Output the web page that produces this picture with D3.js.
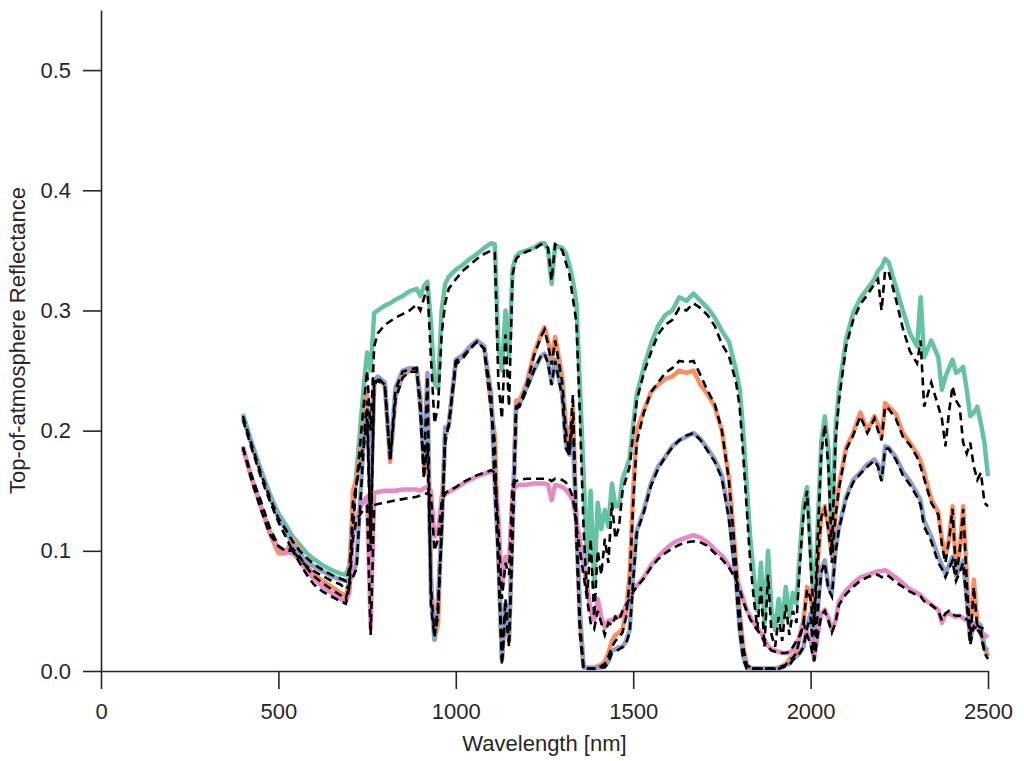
<!DOCTYPE html>
<html lang='en'>
	<head>
		<title>TOA reflectance</title>
		<meta charset=utf-8>
		<script src="https://cdn.jsdelivr.net/npm/d3@7/dist/d3.min.js" charset="utf-8"></script>
		<style>
			body {
				margin: 0;
				background-color: white;
			}
			.axis text {
				font-family: "Liberation Sans", Arial, Helvetica, sans-serif;
				font-size: 22px;
				fill: #262626;
			}
			.axis path, .axis line {
				stroke: #262626;
				stroke-width: 1.6px;
			}
			.label {
				font-family: "Liberation Sans", Arial, Helvetica, sans-serif;
				font-size: 22px;
				fill: #262626;
			}
		</style>
	</head>
	<body>
		<svg id='chart' width="1024" height="761"></svg>
	</body>

	<script>
		// wavelength grid [nm], shared by all series
		var wavelength = [400,425,450,475,500,520,540,560,580,600,
			625,650,675,690,700,710,720,740,750,760,
			770,780,800,815,830,850,870,890,900,910,
			920,930,940,950,960,970,980,1000,1020,1040,
			1060,1080,1100,1110,1120,1130,1140,1150,1160,1170,
			1180,1200,1220,1240,1250,1260,1270,1280,1300,1310,
			1320,1330,1340,1350,1360,1370,1380,1390,1400,1410,
			1420,1430,1440,1450,1460,1470,1480,1490,1500,1510,
			1530,1550,1570,1590,1610,1630,1650,1670,1690,1710,
			1730,1750,1770,1790,1800,1810,1820,1830,1840,1850,
			1860,1870,1880,1890,1900,1910,1920,1930,1940,1950,
			1960,1970,1980,1990,2000,2010,2020,2030,2040,2050,
			2060,2070,2080,2100,2120,2140,2160,2180,2190,2200,
			2210,2220,2240,2260,2280,2300,2310,2320,2340,2360,
			2370,2380,2390,2400,2410,2420,2430,2440,2450,2460,
			2470,2480,2490,2500];

		// measured spectra (solid)
		var greenMeas = [.214,.190,.168,.148,.131,.122,.112,.105,.098,.093,
			.088,.084,.081,.080,.088,.130,.165,.235,.265,.250,
			.298,.300,.304,.306,.309,.312,.316,.318,.312,.320,
			.324,.290,.240,.235,.300,.322,.328,.334,.338,.343,
			.347,.352,.356,.355,.270,.250,.300,.260,.335,.345,
			.348,.350,.352,.356,.356,.350,.322,.354,.352,.348,
			.338,.325,.306,.236,.165,.090,.150,.070,.140,.118,
			.134,.120,.156,.137,.137,.160,.168,.178,.205,.230,
			.253,.272,.287,.296,.300,.311,.308,.314,.308,.302,
			.294,.283,.274,.250,.235,.200,.155,.110,.080,.050,
			.090,.040,.100,.050,.034,.060,.040,.070,.045,.065,
			.056,.100,.139,.153,.100,.053,.120,.190,.212,.185,
			.110,.200,.234,.276,.298,.310,.318,.326,.333,.336,
			.343,.340,.320,.300,.281,.270,.311,.261,.275,.261,
			.234,.245,.252,.259,.248,.250,.253,.234,.212,.215,
			.220,.206,.190,.162];

		var orangeMeas = [.185,.160,.138,.115,.098,.098,.110,.100,.088,.080,
			.075,.070,.065,.062,.075,.150,.160,.200,.230,.140,
			.240,.243,.238,.174,.228,.246,.250,.250,.230,.170,
			.200,.080,.026,.040,.130,.195,.205,.257,.262,.270,
			.275,.270,.220,.195,.100,.010,.050,.025,.120,.225,
			.225,.240,.264,.280,.286,.275,.258,.278,.245,.205,
			.190,.220,.120,.040,.003,.003,.003,.003,.004,.005,
			.008,.015,.025,.030,.032,.035,.050,.080,.150,.200,
			.217,.232,.238,.243,.245,.250,.248,.250,.238,.230,
			.220,.200,.160,.090,.050,.020,.005,.003,.002,.002,
			.002,.002,.002,.002,.002,.003,.004,.006,.010,.012,
			.015,.030,.042,.070,.065,.030,.090,.130,.137,.120,
			.095,.130,.155,.186,.198,.215,.200,.212,.205,.195,
			.223,.220,.214,.198,.190,.181,.175,.165,.143,.132,
			.110,.095,.110,.137,.084,.100,.137,.080,.026,.076,
			.040,.032,.020,.012];

		var blueMeas = [.211,.188,.166,.146,.128,.118,.105,.097,.091,.087,
			.083,.079,.076,.075,.075,.080,.090,.190,.215,.145,
			.242,.245,.240,.178,.236,.250,.252,.252,.220,.173,
			.248,.062,.026,.062,.117,.203,.204,.259,.263,.270,
			.275,.270,.230,.153,.098,.010,.056,.030,.126,.220,
			.222,.236,.250,.262,.264,.258,.240,.259,.230,.190,
			.180,.190,.126,.050,.003,.003,.002,.002,.003,.003,
			.004,.008,.017,.018,.020,.020,.025,.034,.080,.117,
			.134,.156,.170,.178,.187,.192,.195,.198,.193,.185,
			.176,.163,.130,.075,.035,.012,.003,.002,.002,.002,
			.002,.002,.002,.002,.002,.002,.003,.005,.006,.010,
			.012,.015,.020,.038,.048,.012,.050,.085,.092,.070,
			.065,.100,.120,.145,.159,.165,.172,.176,.172,.160,
			.187,.186,.178,.166,.158,.148,.142,.125,.112,.095,
			.088,.081,.088,.095,.079,.085,.092,.060,.026,.040,
			.040,.038,.020,.017];

		var pinkMeas = [.187,.160,.137,.117,.102,.099,.098,.092,.083,.077,
			.070,.065,.060,.058,.065,.112,.128,.142,.145,.036,
			.148,.149,.150,.150,.150,.151,.151,.151,.150,.152,
			.153,.150,.112,.115,.145,.147,.149,.152,.156,.159,
			.162,.164,.166,.164,.128,.070,.095,.090,.150,.154,
			.155,.155,.156,.156,.156,.155,.142,.155,.153,.151,
			.147,.142,.125,.109,.090,.070,.050,.042,.060,.045,
			.036,.042,.042,.045,.045,.048,.055,.062,.067,.071,
			.078,.088,.095,.101,.106,.109,.111,.113,.111,.107,
			.101,.096,.088,.078,.070,.060,.051,.045,.040,.036,
			.032,.026,.021,.018,.017,.016,.015,.015,.015,.018,
			.022,.030,.042,.032,.026,.010,.030,.048,.051,.044,
			.034,.042,.058,.067,.073,.078,.080,.082,.083,.083,
			.084,.082,.078,.073,.068,.065,.063,.060,.055,.051,
			.040,.047,.048,.046,.045,.046,.044,.042,.040,.037,
			.035,.032,.030,.028];

		// simulated spectra (dashed)
		var greenSim = [.212,.188,.165,.145,.127,.118,.108,.100,.094,.089,
			.084,.080,.077,.075,.085,.120,.155,.220,.250,.200,
			.270,.281,.288,.291,.294,.297,.300,.305,.300,.310,
			.320,.260,.206,.220,.280,.306,.318,.326,.333,.338,
			.343,.347,.350,.348,.240,.210,.280,.220,.330,.343,
			.346,.349,.351,.355,.355,.352,.325,.355,.350,.340,
			.330,.310,.290,.210,.120,.060,.110,.045,.100,.080,
			.110,.090,.140,.110,.120,.150,.160,.170,.198,.225,
			.248,.265,.280,.288,.292,.302,.300,.306,.302,.296,
			.287,.272,.262,.240,.220,.180,.135,.090,.060,.035,
			.070,.020,.080,.030,.020,.045,.025,.055,.030,.050,
			.040,.090,.130,.150,.090,.040,.110,.180,.205,.170,
			.100,.190,.225,.270,.292,.305,.313,.322,.326,.300,
			.333,.332,.310,.285,.266,.256,.275,.220,.240,.220,
			.210,.187,.215,.237,.225,.220,.190,.181,.190,.170,
			.159,.165,.140,.137];

		var orangeSim = [.186,.162,.142,.120,.104,.100,.102,.095,.086,.079,
			.073,.068,.063,.060,.072,.140,.155,.190,.225,.110,
			.238,.242,.236,.175,.226,.244,.249,.249,.225,.160,
			.190,.070,.030,.045,.120,.190,.205,.255,.260,.268,
			.274,.268,.215,.190,.090,.010,.060,.020,.110,.220,
			.222,.238,.262,.278,.284,.272,.255,.275,.240,.200,
			.180,.230,.110,.030,.002,.002,.002,.002,.003,.004,
			.006,.012,.020,.025,.028,.032,.045,.075,.140,.190,
			.215,.232,.240,.248,.252,.258,.257,.258,.246,.233,
			.222,.200,.158,.088,.050,.020,.005,.003,.002,.002,
			.002,.002,.002,.002,.002,.003,.004,.005,.009,.011,
			.015,.028,.040,.068,.060,.030,.090,.128,.135,.118,
			.090,.128,.152,.184,.196,.212,.198,.210,.200,.192,
			.220,.218,.210,.195,.188,.178,.170,.160,.140,.130,
			.105,.090,.108,.135,.080,.098,.135,.075,.025,.070,
			.035,.030,.015,.010];

		var blueSim = [.209,.185,.162,.142,.124,.112,.100,.093,.087,.083,
			.079,.075,.072,.068,.072,.078,.085,.185,.210,.100,
			.240,.244,.238,.176,.234,.249,.251,.252,.215,.165,
			.245,.055,.028,.055,.112,.200,.203,.258,.262,.268,
			.274,.268,.228,.150,.090,.005,.050,.025,.120,.218,
			.220,.234,.250,.262,.264,.256,.238,.258,.228,.185,
			.180,.210,.120,.040,.002,.002,.002,.002,.002,.003,
			.003,.007,.015,.016,.018,.020,.023,.032,.075,.115,
			.132,.154,.168,.178,.186,.192,.196,.198,.192,.183,
			.174,.160,.126,.072,.032,.010,.002,.002,.002,.002,
			.002,.002,.002,.002,.002,.002,.003,.004,.005,.009,
			.012,.015,.020,.036,.045,.010,.048,.082,.090,.068,
			.062,.098,.118,.143,.157,.164,.170,.175,.170,.158,
			.185,.185,.176,.163,.155,.145,.138,.120,.108,.090,
			.085,.078,.085,.092,.075,.082,.090,.056,.022,.037,
			.035,.034,.016,.014];

		var pinkSim = [.186,.158,.135,.114,.104,.100,.100,.090,.080,.072,
			.066,.062,.058,.056,.070,.110,.126,.134,.137,.030,
			.138,.139,.140,.141,.142,.143,.144,.145,.146,.147,
			.148,.146,.100,.110,.140,.148,.150,.153,.157,.160,
			.163,.165,.167,.165,.120,.060,.090,.080,.155,.158,
			.159,.160,.160,.160,.160,.160,.158,.160,.159,.157,
			.152,.145,.120,.100,.080,.060,.040,.035,.050,.040,
			.030,.040,.038,.045,.042,.050,.055,.060,.066,.070,
			.077,.086,.093,.098,.102,.105,.107,.108,.107,.104,
			.098,.093,.086,.076,.068,.058,.050,.043,.038,.034,
			.030,.024,.020,.017,.016,.015,.015,.015,.016,.020,
			.025,.030,.040,.030,.022,.008,.030,.046,.050,.042,
			.032,.040,.055,.064,.070,.075,.078,.080,.080,.078,
			.080,.079,.074,.070,.066,.063,.062,.058,.055,.050,
			.042,.048,.050,.047,.046,.046,.045,.043,.041,.039,
			.038,.036,.035,.034];

		// axis ticks
		var xTicks = [0, 500, 1000, 1500, 2000, 2500];
		var yTicks = [0.0, 0.1, 0.2, 0.3, 0.4, 0.5];

		var measured = [greenMeas, orangeMeas, blueMeas, pinkMeas];
		var simulated = [greenSim, orangeSim, blueSim, pinkSim];
		var colors = ['#66c2a5', '#fc8d62', '#8da0cb', '#e78ac3'];

		// layout (note: 'top' is taken by window.top, so use a prefix)
		var svg = d3.select('#chart');
		var pLeft = 101, pRight = 988, pTop = 10, pBottom = 671;

		var x = d3.scaleLinear().domain([0, 2500]).range([pLeft, pRight]);
		var y = d3.scaleLinear().domain([0, 0.55]).range([pBottom, pTop]);

		// axes
		svg.append('g').attr('class', 'axis')
			.attr('transform', 'translate(0,' + pBottom + ')')
			.call(d3.axisBottom(x).tickValues(xTicks).tickSize(18).tickSizeOuter(0).tickPadding(14).tickFormat(d3.format('d')));

		svg.append('g').attr('class', 'axis')
			.attr('transform', 'translate(' + pLeft + ',0)')
			.call(d3.axisLeft(y).tickValues(yTicks).tickSize(18).tickSizeOuter(0).tickPadding(12).tickFormat(d3.format('.1f')));

		// pair up wavelengths with values
		var line = d3.line()
			.x(function(d) { return x(d[0]); })
			.y(function(d) { return y(d[1]); });

		function pts(vals) {
			return wavelength.map(function(w, i) { return [w, vals[i]]; });
		}

		// measured first, then dashed simulation on top
		measured.forEach(function(s, i) {
			svg.append('path').datum(pts(s))
				.attr('d', line)
				.attr('fill', 'none')
				.attr('stroke', colors[i])
				.attr('stroke-width', 4.5)
				.attr('stroke-linejoin', 'round');
		});
		simulated.forEach(function(s) {
			svg.append('path').datum(pts(s))
				.attr('d', line)
				.attr('fill', 'none')
				.attr('stroke', 'black')
				.attr('stroke-width', 2.6)
				.attr('stroke-dasharray', '8,5');
		});

		// axis labels
		svg.append('text').attr('class', 'label')
			.attr('x', (pLeft + pRight) / 2).attr('y', 751)
			.attr('text-anchor', 'middle')
			.text('Wavelength [nm]');

		svg.append('text').attr('class', 'label')
			.attr('transform', 'translate(25,' + ((pTop + pBottom) / 2) + ') rotate(-90)')
			.attr('text-anchor', 'middle')
			.text('Top-of-atmosphere Reflectance');
	</script>
</html>
